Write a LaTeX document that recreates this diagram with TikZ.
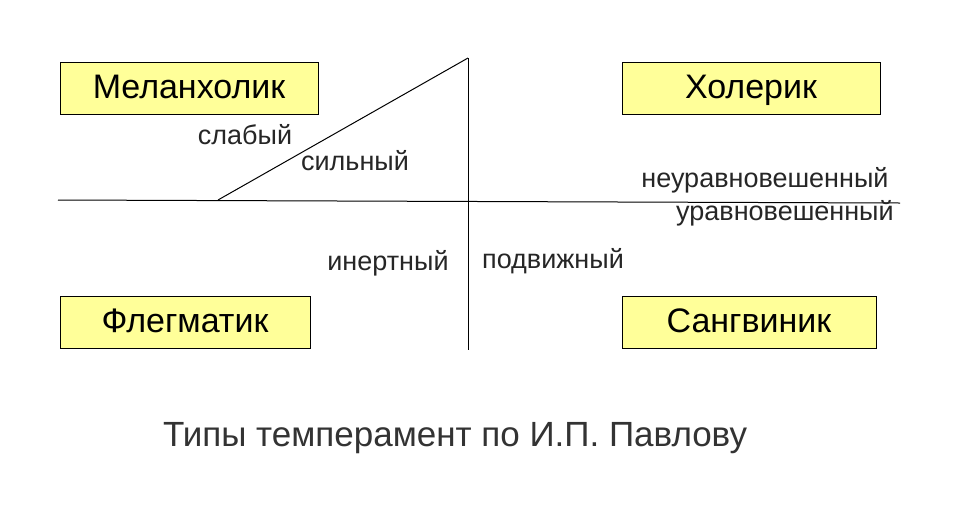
\documentclass[tikz,border=0pt]{standalone}
\usepackage{fontspec}
\setmainfont{Liberation Sans}
\definecolor{boxy}{HTML}{FFFF99}
\begin{document}
\begin{tikzpicture}[x=1pt,y=-1pt,
  tbox/.style={draw=black,fill=boxy,line width=1pt,minimum height=52pt,font=\fontsize{34}{36}\selectfont,inner sep=0pt,text height=24pt,text depth=3pt},
  lab/.style={font=\fontsize{27}{30}\selectfont,inner sep=0pt,text=black!85,text height=19pt,text depth=5pt}]
\useasboundingbox[fill=white] (0,0) rectangle (958,504);
\node[tbox,minimum width=258pt] (mel) at (189,88) {Меланхолик};
\node[tbox,minimum width=258pt] (hol) at (751,88) {Холерик};
\node[tbox,minimum width=250pt] (fle) at (185,322) {Флегматик};
\node[tbox,minimum width=254pt] (san) at (749,322) {Сангвиник};
\coordinate (hl) at (58,200); \coordinate (hr) at (900,203);
\coordinate (vt) at (468,58); \coordinate (vb) at (468,350);
\coordinate (dl) at (218,200);
\draw[line width=1pt] (hl) -- (hr);
\draw[line width=1pt] (vt) -- (vb);
\draw[line width=1pt] (dl) -- (vt);
\node[lab] (sl) at (245,137) {слабый};
\node[lab] (si) at (355,163) {сильный};
\node[lab] (ne) at (765,180) {неуравновешенный};
\node[lab] (ur) at (785,213) {уравновешенный};
\node[lab] (in) at (388,263) {инертный};
\node[lab] (po) at (553,261) {подвижный};
\node[font=\fontsize{35}{38}\selectfont,text=black!80] (t) at (455,438) {Типы темперамент по И.П. Павлову};
\end{tikzpicture}
\end{document}
